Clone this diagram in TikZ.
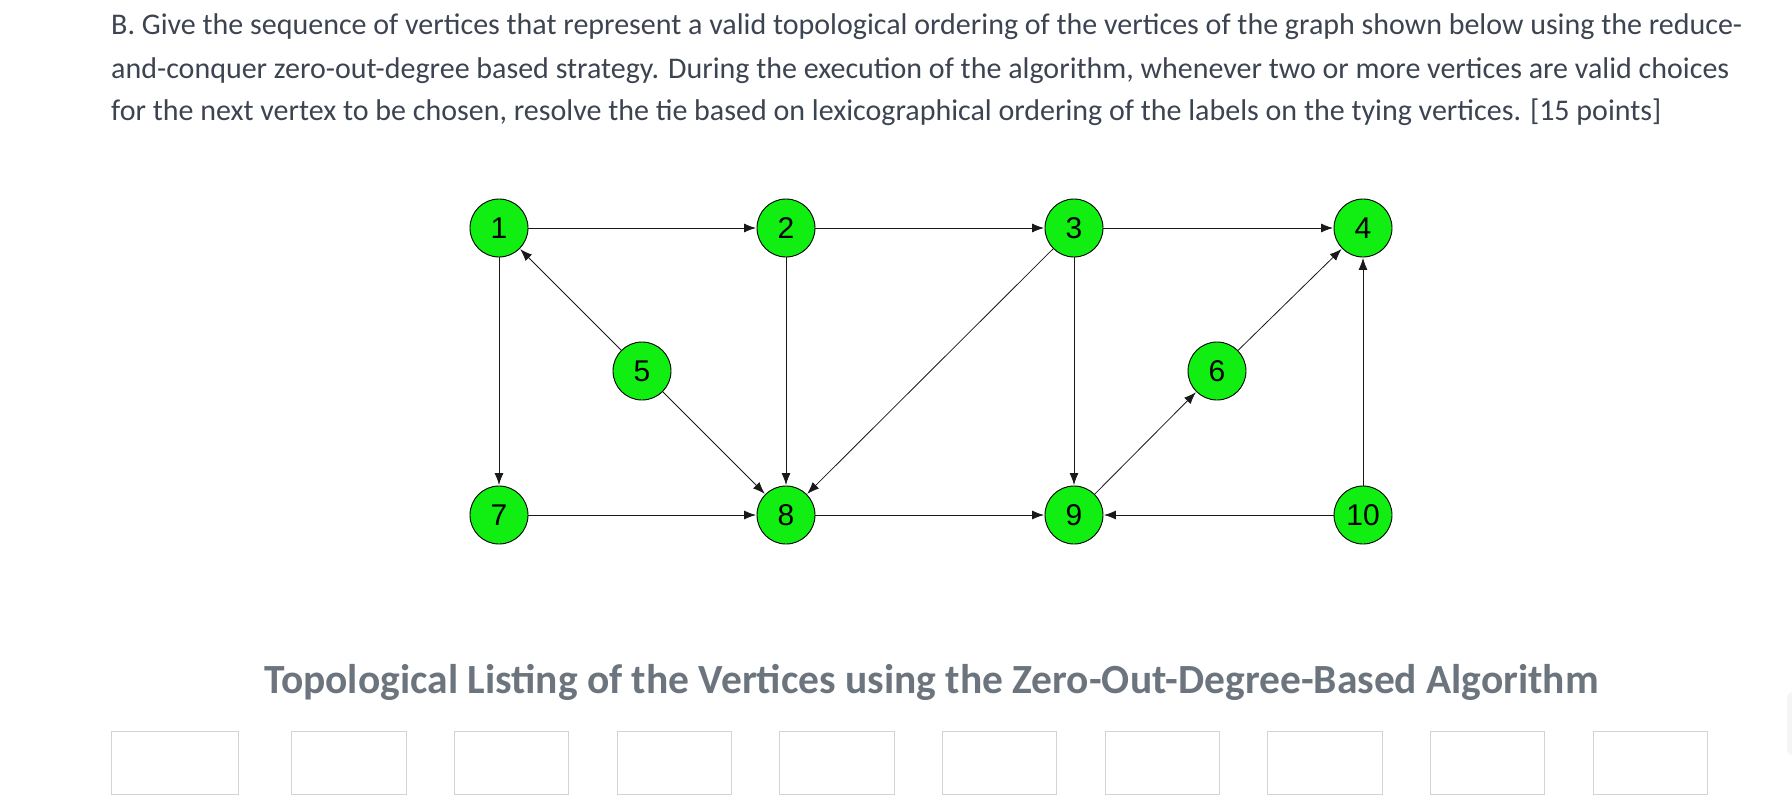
\documentclass[tikz,border=0pt]{standalone}
\usepackage{fontspec}
\setmainfont{Carlito}
\newfontfamily\vtxfont{Liberation Sans}
\usetikzlibrary{arrows.meta}
\definecolor{vgreen}{HTML}{11EE11}
\definecolor{bodytext}{HTML}{3D4451}
\definecolor{headgray}{HTML}{6C757D}
\definecolor{boxgray}{HTML}{CED4DA}
\begin{document}
\begin{tikzpicture}[x=1pt,y=-1pt,
    vtx/.style={circle,draw=black,fill=vgreen,line width=0.9pt,minimum size=58pt,inner sep=0pt,font=\vtxfont\fontsize{30}{30}\selectfont},
    edge/.style={-{Latex[length=12pt,width=9pt]},black!90,line width=0.8pt,shorten >=0.5pt},
    para/.style={anchor=base west,inner sep=0pt,text=bodytext,font=\fontsize{30}{36}\selectfont},
    ansbox/.style={draw=boxgray,line width=0.9pt}]
    \useasboundingbox (0,0) rectangle (1792,808);
    % question text
    \node[para] (line1) at (111,35) {B. Give the sequence of vertices that represent a valid topological ordering of the vertices of the graph shown below using the reduce-};
    \node[para] (line2) at (111,78) {and-conquer zero-out-degree based strategy. During the execution of the algorithm, whenever two or more vertices are valid choices};
    \node[para] (line3) at (111,121) {for the next vertex to be chosen, resolve the tie based on lexicographical ordering of the labels on the tying vertices. [15 points]};
    % vertices
    \node[vtx] (v1) at (499,228) {1};
    \node[vtx] (v2) at (786,228) {2};
    \node[vtx] (v3) at (1074,228) {3};
    \node[vtx] (v4) at (1363,228) {4};
    \node[vtx] (v5) at (642,371) {5};
    \node[vtx] (v6) at (1217,371) {6};
    \node[vtx] (v7) at (499,515) {7};
    \node[vtx] (v8) at (786,515) {8};
    \node[vtx] (v9) at (1074,515) {9};
    \node[vtx] (v10) at (1363,515) {10};
    % edges
    \draw[edge] (v1) -- (v2);
    \draw[edge] (v2) -- (v3);
    \draw[edge] (v3) -- (v4);
    \draw[edge] (v1) -- (v7);
    \draw[edge] (v5) -- (v1);
    \draw[edge] (v5) -- (v8);
    \draw[edge] (v2) -- (v8);
    \draw[edge] (v3) -- (v8);
    \draw[edge] (v3) -- (v9);
    \draw[edge] (v7) -- (v8);
    \draw[edge] (v8) -- (v9);
    \draw[edge] (v9) -- (v6);
    \draw[edge] (v6) -- (v4);
    \draw[edge] (v10) -- (v4);
    \draw[edge] (v10) -- (v9); %bottom row, right to left
    % answer row
    \node[anchor=base,inner sep=0pt,text=headgray,font=\bfseries\fontsize{41.5}{46}\selectfont] (heading) at (931.5,693) {Topological Listing of the Vertices using the Zero-Out-Degree-Based Algorithm};
    \draw[ansbox] (111,731) rectangle (238,794);
    \draw[ansbox] (291,731) rectangle (406,794);
    \draw[ansbox] (454,731) rectangle (568,794);
    \draw[ansbox] (617,731) rectangle (731,794);
    \draw[ansbox] (779,731) rectangle (894,794);
    \draw[ansbox] (942,731) rectangle (1056,794);
    \draw[ansbox] (1105,731) rectangle (1219,794);
    \draw[ansbox] (1267,731) rectangle (1382,794);
    \draw[ansbox] (1430,731) rectangle (1544,794);
    \draw[ansbox] (1593,731) rectangle (1707,794);
    \fill[black!4,rounded corners=5pt] (1787,692) rectangle (1802,755);
\end{tikzpicture}
\end{document}
